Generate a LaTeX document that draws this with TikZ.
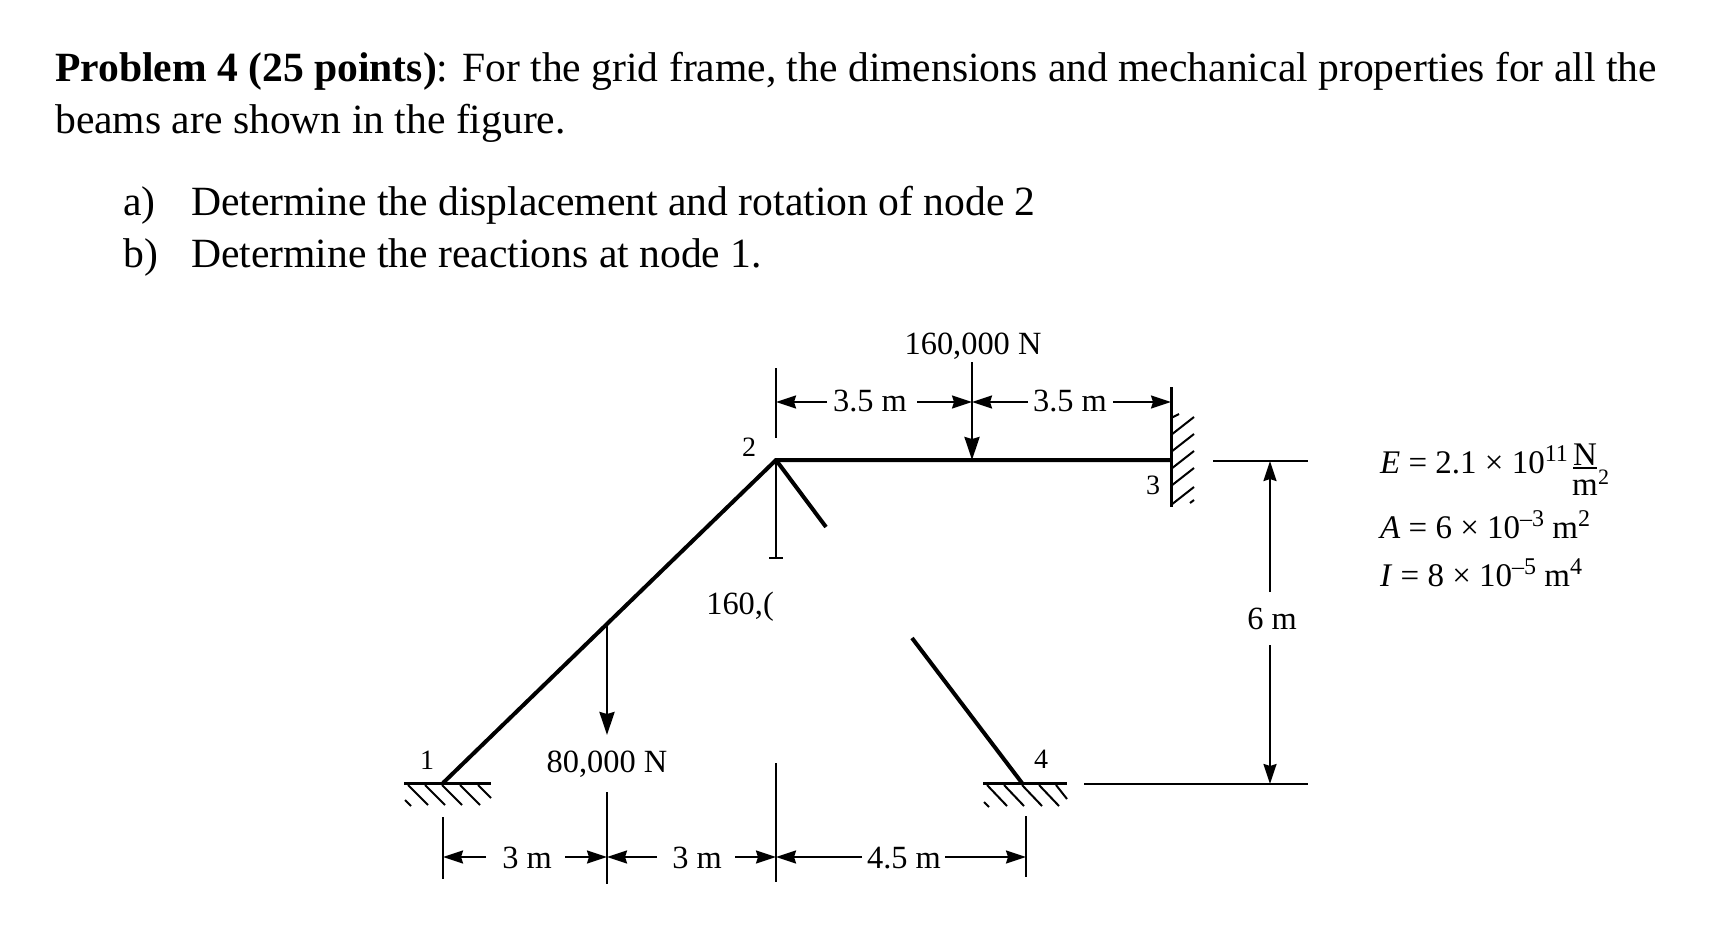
\documentclass[tikz,border=0pt]{standalone}
\usepackage{fontspec}
\setmainfont{Liberation Serif}
\usetikzlibrary{arrows.meta,positioning}
\newcommand{\raisedtxt}[1]{\raisebox{0.36em}{\fontsize{24}{24}\selectfont #1}}
\tikzset{
	headtext/.style={font=\fontsize{41.6}{50}\selectfont,anchor=base west,inner sep=0pt},
	lbl/.style={font=\fontsize{32.4}{38}\selectfont,anchor=base,inner ysep=0pt,inner xsep=0pt},
	numlbl/.style={font=\fontsize{28}{34}\selectfont,anchor=base,inner sep=0pt},
	proptext/.style={font=\fontsize{33}{38}\selectfont,anchor=base west,inner sep=0pt},
	beam/.style={line width=4pt},
	thinline/.style={line width=2.2pt},
	hatchline/.style={line width=2pt},
	dimarrow/.style={line width=2.2pt,-{Stealth[length=20pt,width=13pt,inset=2pt]}},
	loadarrow/.style={line width=2.6pt,-{Stealth[length=23pt,width=15pt,inset=2pt]}}
}
\begin{document}
\begin{tikzpicture}[x=1pt,y=-1pt]
	\useasboundingbox (0,0) rectangle (1734,926);

	% problem text
	\node[headtext] (line1) at (55,81) {\textbf{Problem 4 (25 points)}: For the grid frame, the dimensions and mechanical properties for all the};
	\node[headtext] (line2) at (55,133) {beams are shown in the figure.};
	\node[headtext] (itema) at (123,215) {a)};
	\node[headtext] (texta) at (191,215) {Determine the displacement and rotation of node 2};
	\node[headtext] (itemb) at (123,267) {b)};
	\node[headtext] (textb) at (191,267) {Determine the reactions at node 1.};

	% frame
	\coordinate (n1) at (443,783);
	\coordinate (n2) at (776,460);
	\coordinate (n3) at (1171,460);
	\coordinate (n4) at (1022,783);
	\coordinate (m1) at (607,623);
	\coordinate (m2) at (972,460);
	\coordinate (cut2) at (826,527);
	\coordinate (cut4) at (912,638);
	\coordinate (stub) at (776,558);
	\draw[beam] (n1) -- (n2) -- (n3);
	\draw[beam] (n2) -- (cut2);
	\draw[beam] (cut4) -- (n4);
	\draw[thinline] (n2) -- (stub);
	\draw[thinline] (769,558) -- (783,558);

	% supports
	\draw[line width=3pt] (404,783) -- (491,783);
	\draw[line width=3pt] (983,783) -- (1067,783);
	\draw[line width=3pt] (n3 |- 0,387) -- (n3 |- 0,507);
	\foreach \x in {408,425,442,460} {
		\draw[hatchline] (\x,785) -- ++(20,20);
	}
	\draw[hatchline] (478,785) -- (491,798);
	\draw[hatchline] (405,800) -- (411,806);
	\foreach \x in {987,1004,1022,1039} {
		\draw[hatchline] (\x,785) -- ++(20,21);
	}
	\draw[hatchline] (1056,785) -- (1067,799);
	\draw[hatchline] (984,802) -- (989,807);
	\foreach \y in {435,452,469,486,505} {
		\draw[hatchline] (1171,\y) -- ++(23,-18);
	}
	\draw[hatchline] (1171,418) -- (1179,414);
	\draw[hatchline] (1190,503) -- (1194,500);

	% loads
	\coordinate (top1) at (972,362);
	\draw[loadarrow] (m1) -- (607,735);
	\draw[loadarrow] (top1) -- (m2);
	\node[lbl] (load1) at (607,772) {80,000 N};
	\node[lbl] (load2) at (973,354) {160,000 N};
	\node[lbl,anchor=base east] (load3) at (774,614) {160,(};

	% node numbers
	\node[numlbl] (lab1) at (427,769) {1};
	\node[numlbl] (lab2) at (749,456) {2};
	\node[numlbl] (lab3) at (1153,494) {3};
	\node[numlbl] (lab4) at (1041,768) {4};

	% dimensions on top
	\coordinate (a1) at (776,402);
	\coordinate (a2) at (972,402);
	\coordinate (a3) at (1171,402);
	\draw[thinline] (776,368) -- (776,438);
	\node[lbl] (top35a) at (870,411) {3.5 m};
	\node[lbl] (top35b) at (1070,411) {3.5 m};
	\draw[dimarrow] (827,402) -- (a1);
	\draw[dimarrow] (917,402) -- (a2);
	\draw[dimarrow] (1028,402) -- (a2);
	\draw[dimarrow] (1113,402) -- (a3);

	% dimensions below
	\coordinate (b1) at (443,857);
	\coordinate (b2) at (607,857);
	\coordinate (b3) at (776,857);
	\coordinate (b4) at (1026,857);
	\draw[thinline] (443,817) -- (443,879);
	\draw[thinline] (607,792) -- (607,884);
	\draw[thinline] (776,763) -- (776,882);
	\draw[thinline] (1026,816) -- (1026,877);
	\node[lbl] (bot3a) at (527,868) {3 m};
	\node[lbl] (bot3b) at (697,868) {3 m};
	\node[lbl] (bot45) at (904,868) {4.5 m};
	\draw[dimarrow] (486,857) -- (b1);
	\draw[dimarrow] (565,857) -- (b2);
	\draw[dimarrow] (657,857) -- (b2);
	\draw[dimarrow] (735,857) -- (b3);
	\draw[dimarrow] (862,857) -- (b3);
	\draw[dimarrow] (945,857) -- (b4);

	% height
	\coordinate (h1) at (1270,461);
	\coordinate (h2) at (1270,784);
	\draw[thinline] (1213,461) -- (1308,461);
	\draw[thinline] (1084,784) -- (1308,784);
	\node[lbl] (six) at (1272,629) {6 m};
	\draw[dimarrow] (1270,592) -- (h1);
	\draw[dimarrow] (1270,645) -- (h2);

	% properties
	\node[proptext] (propE) at (1380,473) {\textit{E} = 2.1 × 10\raisedtxt{11}};
	\node[proptext,anchor=base] (unitN) at (1585,465) {N};
	\node[proptext,anchor=base] (unitM) at (1585,495) {m};
	\node[font=\fontsize{22}{24}\selectfont,anchor=base west,inner sep=0pt] (unitS) at (1598,484) {2};
	\draw[line width=2pt] (1573,468) -- (1597,468);
	\node[proptext] (propA) at (1380,538) {\textit{A} = 6 × 10\raisedtxt{–3} m\raisedtxt{2}};
	\node[proptext] (propI) at (1380,586) {\textit{I} = 8 × 10\raisedtxt{–5} m\raisedtxt{4}};
\end{tikzpicture}
\end{document}
